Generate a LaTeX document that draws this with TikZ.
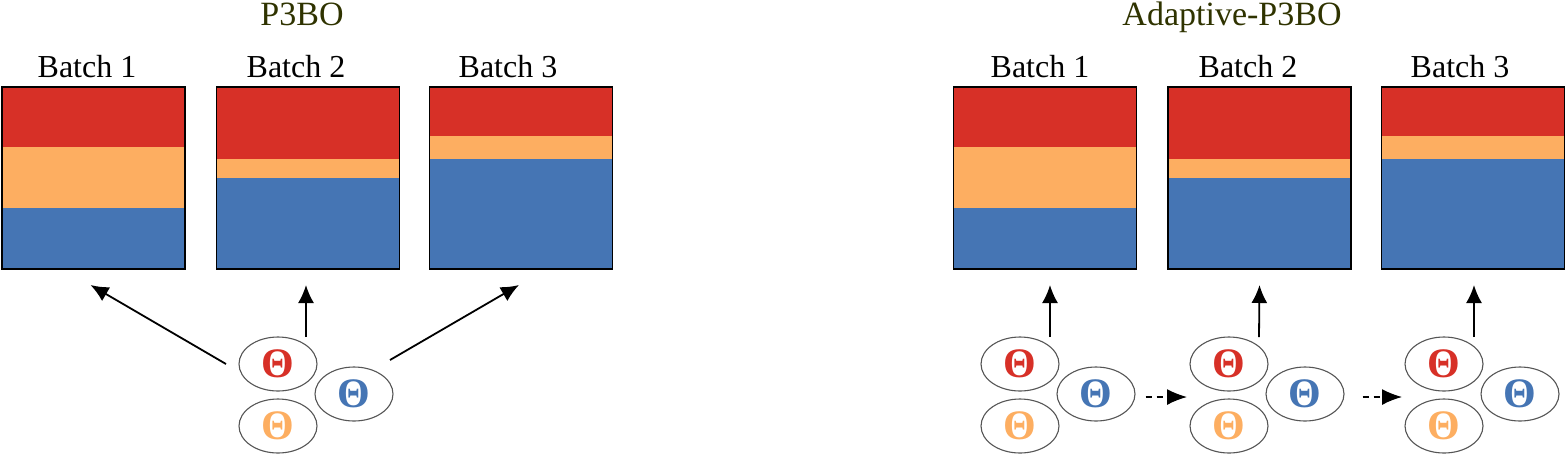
\documentclass[tikz,border=0pt]{standalone}
\usepackage{fontspec}
\setmainfont{Liberation Serif}
\usetikzlibrary{shapes.geometric,arrows.meta}
\definecolor{cred}{HTML}{D73027}
\definecolor{corange}{HTML}{FDAE61}
\definecolor{cblue}{HTML}{4575B4}
\definecolor{ctitle}{HTML}{2F3300}
\definecolor{cellip}{HTML}{555555}
\tikzset{
  box/.style={draw=black, line width=1.8pt, inner sep=0pt, outer sep=0pt, minimum width=183pt, minimum height=182pt},
  batchlabel/.style={font=\fontsize{32}{36}\selectfont, anchor=base, inner sep=0pt},
  paneltitle/.style={font=\fontsize{34}{38}\selectfont, text=ctitle, anchor=base, inner sep=0pt},
  model/.style={ellipse, draw=cellip, line width=1.1pt, minimum width=78pt, minimum height=54pt, inner sep=0pt, font=\fontsize{42}{44}\selectfont\bfseries},
  arr/.style={line width=1.8pt, -{Latex[length=18pt,width=16pt]}},
  darr/.style={line width=1.5pt, dash pattern=on 6pt off 5pt, -{Latex[length=20pt,width=16pt]}},
}
\newcommand\batchbox[4]{%
  \fill[cred] ({#2-91.5},87) rectangle ({#2+91.5},#3);
  \fill[corange] ({#2-91.5},#3) rectangle ({#2+91.5},#4);
  \fill[cblue] ({#2-91.5},#4) rectangle ({#2+91.5},269);
  \node[box] (#1) at (#2,178) {};
}
\newcommand\modelgroup[3]{%
  \node[model, text=cred] (#1r) at (#2,#3) {Θ};
  \node[model, text=cblue] (#1b) at ({#2+76},{#3+30}) {Θ};
  \node[model, text=corange] (#1o) at (#2,{#3+62}) {Θ};
}
\begin{document}
\begin{tikzpicture}[x=1pt,y=-1pt]
\useasboundingbox (0,0) rectangle (1568,456);

% ---------- P3BO ----------
\node[paneltitle] (t1) at (302,25) {P3BO};
\node[batchlabel] (lb1) at (87,77) {Batch 1};
\node[batchlabel] (lb2) at (296,77) {Batch 2};
\node[batchlabel] (lb3) at (508,77) {Batch 3};
\batchbox{L1}{93.5}{147}{208}
\batchbox{L2}{308}{159}{178}
\batchbox{L3}{521}{136}{159}
\modelgroup{p}{278}{364}
\coordinate (ps1) at (226,364);
\coordinate (ps2) at (306,337);
\coordinate (ps3) at (390,360);
\path (L1.south) ++(-3,16) coordinate (pe1);
\path (L2.south) ++(-2,16) coordinate (pe2);
\path (L3.south) ++(-2,16) coordinate (pe3);
\draw[arr] (ps1) -- (pe1);
\draw[arr] (ps2) -- (pe2);
\draw[arr] (ps3) -- (pe3);

% ---------- Adaptive-P3BO ----------
\node[paneltitle] (t2) at (1232,25) {Adaptive-P3BO};
\node[batchlabel] (rb1) at (1040,77) {Batch 1};
\node[batchlabel] (rb2) at (1248,77) {Batch 2};
\node[batchlabel] (rb3) at (1460,77) {Batch 3};
\batchbox{R1}{1045}{147}{208}
\batchbox{R2}{1259.5}{159}{178}
\batchbox{R3}{1473}{136}{159}
\modelgroup{a}{1020}{364}
\modelgroup{b}{1229}{364}
\modelgroup{c}{1444}{364}
\path (R1.south) ++(5,16) coordinate (re1);
\path (R2.south) ++(0,16) coordinate (re2);
\path (R3.south) ++(1,16) coordinate (re3);
\coordinate (rs1) at (1050,337);
\coordinate (rs2) at (1259,337);
\coordinate (rs3) at (1474,337);
\draw[arr] (rs1) -- (re1);
\draw[arr] (rs2) -- (re2);
\draw[arr] (rs3) -- (re3);
\path (ab.east) ++(10,3) coordinate (ds1);
\path (bb.east) ++(18,3) coordinate (ds2);
\coordinate (de1) at (1187,397);
\coordinate (de2) at (1402,397);
\draw[darr] (ds1) -- (de1);
\draw[darr] (ds2) -- (de2);
\end{tikzpicture}
\end{document}
